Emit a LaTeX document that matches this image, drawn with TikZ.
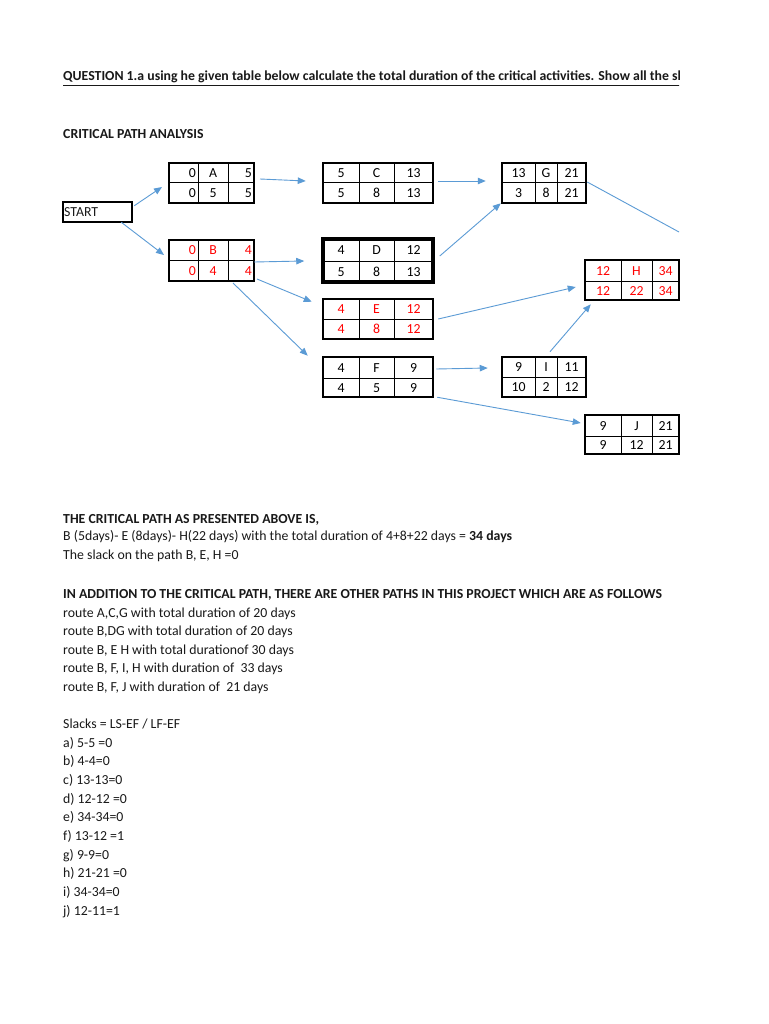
\documentclass[tikz,border=0pt]{standalone}
\usepackage{fontspec}
\setmainfont{Carlito}
\usetikzlibrary{arrows.meta,calc}
\definecolor{arrblue}{HTML}{5B9BD5}
\definecolor{critred}{HTML}{FF0000}
\newif\ifralign
\newcommand\geom[7]{\def\xL{#1}\def\xa{#2}\def\xb{#3}\def\xR{#4}\def\yT{#5}\def\yM{#6}\def\yB{#7}}
\newcommand\abox[8]{%
  \node[frame, line width=#2, minimum width={(\xR-\xL)*1pt}, minimum height={(\yB-\yT)*1pt}] (#1) at ({(\xL+\xR)/2},{(\yT+\yB)/2}) {};
  \draw[innerline] (\xa,\yT) -- (\xa,\yB) (\xb,\yT) -- (\xb,\yB) (\xL,\yM) -- (\xR,\yM);
  \ifralign
    \node[cell,anchor=base east] (#1-1) at (\xa-2,{(\yT+\yM)/2+4.5}) {#3};
    \node[cell,anchor=base east] (#1-3) at (\xR-2,{(\yT+\yM)/2+4.5}) {#5};
    \node[cell,anchor=base east] (#1-4) at (\xa-2,{(\yM+\yB)/2+4.5}) {#6};
    \node[cell,anchor=base east] (#1-6) at (\xR-2,{(\yM+\yB)/2+4.5}) {#8};
  \else
    \node[cell,anchor=base] (#1-1) at ({(\xL+\xa)/2},{(\yT+\yM)/2+4.5}) {#3};
    \node[cell,anchor=base] (#1-3) at ({(\xb+\xR)/2},{(\yT+\yM)/2+4.5}) {#5};
    \node[cell,anchor=base] (#1-4) at ({(\xL+\xa)/2},{(\yM+\yB)/2+4.5}) {#6};
    \node[cell,anchor=base] (#1-6) at ({(\xb+\xR)/2},{(\yM+\yB)/2+4.5}) {#8};
  \fi
  \node[cell,anchor=base] (#1-2) at ({(\xa+\xb)/2},{(\yT+\yM)/2+4.5}) {#4};
  \node[cell,anchor=base] (#1-5) at ({(\xa+\xb)/2},{(\yM+\yB)/2+4.5}) {#7};
}
\begin{document}
\begin{tikzpicture}[x=1pt,y=-1pt,
  txt/.style={font=\fontsize{13.8}{16}\selectfont, anchor=base west, inner sep=0pt, text=black!90},
  btxt/.style={txt, font=\fontsize{13.8}{16}\selectfont\bfseries},
  cell/.style={font=\fontsize{13.8}{16}\selectfont, inner sep=0pt, text=\tc},
  frame/.style={draw=black, inner sep=0pt, fill=white},
  innerline/.style={draw=black, line width=1pt},
  conn/.style={draw=arrblue, line width=0.9pt, -{Triangle[length=8pt,width=6.5pt]}},
  connplain/.style={draw=arrblue, line width=0.9pt}]
\fill[white] (0,0) rectangle (768,1024);
\useasboundingbox (0,0) rectangle (768,1024);

% title (clipped at the sheet column edge)
\begin{scope}
  \clip (0,0) rectangle (679,1024);
  \node[btxt] (title) at (63,81) {\underline{QUESTION 1.a using he given table below calculate the total duration of the critical activities. Show all the slacks}};
\end{scope}
\node[btxt] (cpa) at (63,138.5) {CRITICAL PATH ANALYSIS};

% START box
\node[frame, line width=2.5pt, minimum width=69pt, minimum height=20pt] (start) at (97.5,212) {};
\node[txt] (startlbl) at (64,216.5) {START};

% activity boxes
\def\tc{black}
\raligntrue
\geom{169}{198}{228}{254}{163}{183}{203}
\abox{A}{2pt}{0}{A}{5}{0}{5}{5}
\def\tc{critred}
\geom{169}{198}{228}{254}{240}{260}{281}
\abox{B}{2pt}{0}{B}{4}{0}{4}{4}
\ralignfalse
\def\tc{black}
\geom{323}{359}{394}{433}{163}{183}{203}
\abox{C}{2.5pt}{5}{C}{13}{5}{8}{13}
\geom{323}{359}{394}{433}{239}{261}{282}
\abox{D}{3.5pt}{4}{D}{12}{5}{8}{13}
\def\tc{critred}
\geom{323}{359}{394}{433}{299}{319}{339}
\abox{E}{2.5pt}{4}{E}{12}{4}{8}{12}
\def\tc{black}
\geom{323}{359}{394}{433}{357}{378}{397}
\abox{F}{2.5pt}{4}{F}{9}{4}{5}{9}
\geom{502}{535}{557}{586}{163}{183}{203}
\abox{G}{2.5pt}{13}{G}{21}{3}{8}{21}
\geom{502}{535}{557}{586}{357}{377}{397}
\abox{I}{2.5pt}{9}{I}{11}{10}{2}{12}
\def\tc{critred}
\geom{585}{621}{652}{679}{260}{281}{300}
\abox{H}{2.5pt}{12}{H}{34}{12}{22}{34}
\def\tc{black}
\geom{585}{621}{652}{679}{415}{436}{454}
\abox{J}{2.5pt}{9}{J}{21}{9}{12}{21}

% connectors
\coordinate (offR) at (679,232);
\draw[conn] ([shift={(1,5)}]start.north east) -- ([shift={(-6,4)}]A.west);
\draw[conn] ([shift={(-12,-1)}]start.south east) -- ([shift={(-4,-5.5)}]B.west);
\draw[conn] ([shift={(5,-4)}]A.east) -- ([shift={(-16,-2)}]C.west);
\draw[conn] ([shift={(-1,1.5)}]B.east) -- ([shift={(-17,0.5)}]D.west);
\draw[conn] ([shift={(2,-3)}]B.south east) -- ([shift={(-10,4)}]E.north west);
\draw[conn] ([shift={(21.5,1)}]B.south) -- ([shift={(-14,0)}]F.north west);
\draw[conn] ([shift={(4,-2)}]C.east) -- ([shift={(-15,-2)}]G.west);
\draw[conn] ([shift={(5,-4.5)}]D.east) -- ([shift={(0,-1)}]G.south west);
\draw[connplain] ([shift={(0,-1)}]G.east) -- (offR);
\draw[conn] ([shift={(4,0)}]E.east) -- ([shift={(-8,7)}]H.west);
\draw[conn] ([shift={(2,-8)}]F.east) -- ([shift={(-13,-9)}]I.west);
\draw[conn] ([shift={(6,-4)}]I.north) -- ([shift={(7,3)}]H.south west);
\draw[conn] ([shift={(3,-1)}]F.south east) -- ([shift={(-3,-11.5)}]J.west);

% text below
\node[btxt] (t1) at (63,523) {THE CRITICAL PATH AS PRESENTED ABOVE IS,};
\node[txt] (t2) at (63,540.5) {B (5days)- E (8days)- H(22 days) with the total duration of 4+8+22 days = \textbf{34 days}};
\node[txt] (t3) at (63,559) {The slack on the path B, E, H =0};
\node[btxt] (t4) at (63,598.5) {IN ADDITION TO THE CRITICAL PATH, THERE ARE OTHER PATHS IN THIS PROJECT WHICH ARE AS FOLLOWS};
\node[txt] (r1) at (63,617) {route A,C,G with total duration of 20 days};
\node[txt] (r2) at (63,635.5) {route B,DG with total duration of 20 days};
\node[txt] (r3) at (63,654) {route B, E H with total durationof 30 days};
\node[txt] (r4) at (63,672.5) {route B, F, I, H with duration of \ 33 days};
\node[txt] (r5) at (63,691) {route B, F, J with duration of \ 21 days};

\node[txt] (s0) at (63,728.5) {Slacks = LS-EF / LF-EF};
\node[txt] (sa) at (63,747) {a) 5-5 =0};
\node[txt] (sb) at (63,765.7) {b) 4-4=0};
\node[txt] (sc) at (63,784.3) {c) 13-13=0};
\node[txt] (sd) at (63,803) {d) 12-12 =0};
\node[txt] (se) at (63,821.7) {e) 34-34=0};
\node[txt] (sf) at (63,840.3) {f) 13-12 =1};
\node[txt] (sg) at (63,859) {g) 9-9=0};
\node[txt] (sh) at (63,877.7) {h) 21-21 =0};
\node[txt] (si) at (63,896.3) {i) 34-34=0};
\node[txt] (sj) at (63,915) {j) 12-11=1};
\end{tikzpicture}
\end{document}
